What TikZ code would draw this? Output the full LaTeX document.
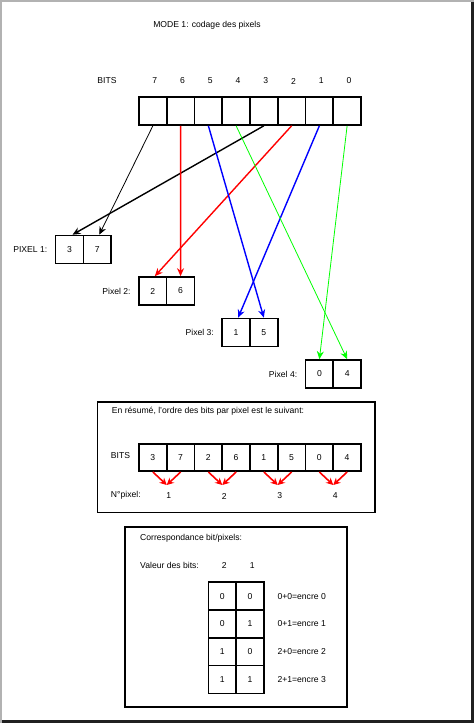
\documentclass[tikz,border=0pt]{standalone}
\usepackage{fontspec}
\setmainfont{Liberation Sans}
\usetikzlibrary{arrows.meta,positioning}
\begin{document}
\begin{tikzpicture}[x=1pt,y=-1pt,
    every node/.style={font=\fontsize{8.6}{10}\selectfont},
    cell/.style={draw,line width=1.6pt,minimum width=27.75pt,minimum height=28pt,inner sep=0pt},
    frame/.style={line width=1.6pt},
    link/.style={-{Stealth[length=8pt,width=7pt]},line width=0.8pt},
    boldlink/.style={link,line width=1.4pt},
    pairlink/.style={red,-{Stealth[length=7pt,width=7pt]},line width=1.6pt}]

    % Page frame
    \useasboundingbox (0,0) rectangle (474,723);
    \fill[gray!60] (0,0) rectangle (474,723);
    \fill[gray!25!black] (2,2) rectangle (474,723);
    \fill[white] (2,2) rectangle (471,720);

    % Title
    \node (title) at (207,25) {MODE 1: codage des pixels};

    % Bits of the byte
    \node (bitslbl) at (107,81) {BITS};
    \foreach \i in {0,...,7} {
        \pgfmathtruncatemacro\bit{7-\i}
        \node[cell] (b\bit) at ({139+27.75*(\i+0.5)},111) {};
        \node (h\bit) at ({141+27.75*(\i+0.5)},81) {\bit};
    }

    % Pixels
    \foreach \k/\lv/\rv/\txt in {1/3/7/PIXEL 1:,2/2/6/Pixel 2:,3/1/5/Pixel 3:,4/0/4/Pixel 4:} {
        \node[cell] (px\k-l) at ({69.5+83.3*(\k-1)},{249.5+41.5*(\k-1)}) {\lv};
        \node[cell] (px\k-r) at ({97.25+83.3*(\k-1)},{249.5+41.5*(\k-1)}) {\rv};
        \node[left=4pt of px\k-l] (plbl\k) {\txt};
    }

    % Bits to pixels
    \draw[link] (b7.south) -- ([xshift=2pt]px1-r.north);
    \draw[boldlink] (b3.south) -- ([xshift=3pt]px1-l.north);
    \draw[boldlink,red] (b6.south) -- (px2-r.north);
    \draw[boldlink,red] (b2.south) -- ([xshift=2pt]px2-l.north);
    \draw[boldlink,blue] (b5.south) -- (px3-r.north);
    \draw[boldlink,blue] (b1.south) -- ([xshift=2pt]px3-l.north);
    \draw[link,green] (b4.south) -- (px4-r.north);
    \draw[link,green] (b0.south) -- (px4-l.north);

    % Summary
    \draw[frame] (97.3,401.7) rectangle (375,512.3);
    \node[anchor=west] (resume) at (108.4,411.7) {En résumé, l’ordre des bits par pixel est le suivant:};
    \node[anchor=west] (bits2) at (107.4,456) {BITS};
    \foreach \i/\v in {0/3,1/7,2/2,3/6,4/1,5/5,6/0,7/4}
        \node[cell,minimum height=27pt] (s\i) at ({139+27.75*(\i+0.5)},457.7) {\v};
    \node[anchor=west] (npix) at (107.4,495.7) {N°pixel:};
    \foreach \k in {1,...,4} {
        \pgfmathtruncatemacro\a{2*\k-2}
        \pgfmathtruncatemacro\b{2*\k-1}
        \coordinate (m\k) at ({139+55.5*\k-27.75},485);
        \draw[pairlink] (s\a.south) -- (m\k);
        \draw[pairlink] (s\b.south) -- (m\k);
        \node (n\k) at ({141+55.5*\k-27.75},496) {\k};
    }

    % Correspondance
    \draw[frame] (125,526.7) rectangle (346.7,706.7);
    \node[anchor=west] (corr) at (136.7,538.3) {Correspondance bit/pixels:};
    \node[anchor=west] (valeur) at (136.7,565.7) {Valeur des bits:};
    \node (v2) at (224.3,565.7) {2};
    \node (v1) at (252.3,565.7) {1};
    \foreach \r/\hi/\lo/\txt in {1/0/0/0+0=encre 0,2/0/1/0+1=encre 1,3/1/0/2+0=encre 2,4/1/1/2+1=encre 3} {
        \node[cell] (t\r-a) at (222.2,{568.4+27.75*\r}) {\hi};
        \node[cell] (t\r-b) at (249.95,{568.4+27.75*\r}) {\lo};
        \node[anchor=west] (e\r) at (274,{568.4+27.75*\r}) {\txt};
    }

\end{tikzpicture}
\end{document}
